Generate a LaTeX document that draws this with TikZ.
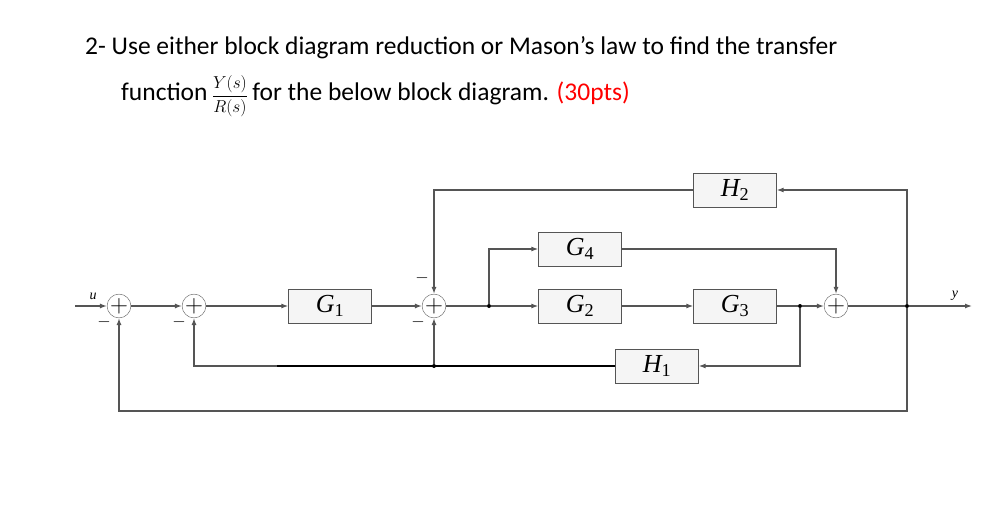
\documentclass[tikz,border=0pt]{standalone}
\usepackage{fontspec}
\setmainfont{Carlito}
\newfontfamily\tms{Liberation Serif}
\usetikzlibrary{arrows.meta}
\definecolor{ln}{HTML}{555555}
\begin{document}
\begin{tikzpicture}[x=1pt,y=-1pt,
  blk/.style={draw=ln,fill=gray!8,minimum width=83pt,minimum height=34pt,inner sep=0pt,font=\tms\itshape\fontsize{26}{26}\selectfont},
  sm/.style={circle,draw=ln,fill=white,minimum size=22pt,inner sep=0pt,font=\fontsize{26}{26}\selectfont},
  w/.style={draw=ln,line width=1.2pt},
  a/.style={w,-{Latex[length=7pt,width=5pt]}},
  dot/.style={circle,fill=black,inner sep=0pt,minimum size=4pt},
  mn/.style={font=\fontsize{18}{18}\selectfont}]
\useasboundingbox (0,0) rectangle (1007,511);
\node[anchor=west,inner sep=0pt,font=\fontsize{25.5}{30}\selectfont] (t1) at (85,48) {2- Use either block diagram reduction or Mason’s law to find the transfer};
\node[anchor=west,inner sep=0pt,font=\fontsize{25.5}{30}\selectfont] (t2) at (121,96) {function\,{\fontsize{18}{18}\selectfont$\displaystyle\frac{Y(s)}{R(s)}$}\,for the below block diagram. \textcolor{red}{(30pts)}};
\node[sm] (s1) at (119,306) {$+$};
\node[sm] (s2) at (194,306) {$+$};
\node[sm] (s3) at (434,306) {$+$};
\node[sm] (s4) at (836,306) {$+$};
\node[blk] (g1) at (330,306) {G\textsubscript{\upshape 1}};
\node[blk] (g4) at (580,249) {G\textsubscript{\upshape 4}};
\node[blk] (g2) at (580,306) {G\textsubscript{\upshape 2}};
\node[blk] (g3) at (735,306) {G\textsubscript{\upshape 3}};
\node[blk] (h2) at (735,190) {H\textsubscript{\upshape 2}};
\node[blk] (h1) at (657,366) {H\textsubscript{\upshape 1}};
\node[dot] (d1) at (489,306) {};
\node[dot] (d2) at (800,306) {};
\node[dot] (d3) at (907,306) {};
\node[dot] (d4) at (434,366) {};
\coordinate (u) at (75,306);
\coordinate (y) at (972,306);
\node[font=\tms\itshape\fontsize{14}{14}\selectfont] (ul) at (93,296) {u};
\node[font=\tms\itshape\fontsize{14}{14}\selectfont] (yl) at (955,296) {y};
\node[mn] (m1) at (104,322) {$-$};
\node[mn] (m2) at (179,322) {$-$};
\node[mn] (m3) at (418,322) {$-$};
\node[mn] (m4) at (422,278) {$-$};
\draw[a] (u) -- (s1);
\draw[a] (s1) -- (s2);
\draw[a] (s2) -- (g1);
\draw[a] (g1) -- (s3);
\draw[w] (s3) -- (d1);
\draw[a] (d1) -- (g2);
\draw[a] (d1) |- (g4);
\draw[a] (g2) -- (g3);
\draw[w] (g3) -- (d2);
\draw[a] (d2) -- (s4);
\draw[a] (g4) -| (s4);
\draw[w] (s4) -- (d3);
\draw[a] (d3) -- (y);
\draw[a] (d3) |- (h2);
\draw[a] (h2) -| (s3);
\draw[a] (d2) |- (h1);
\draw[w,black,line width=2pt] (h1.west) -- (277,366);
\draw[a] (277,366) -| (s2);
\draw[a] (d4) -- (s3);
\draw[a] (d3) -- (907,411) -| (s1);
\end{tikzpicture}
\end{document}
